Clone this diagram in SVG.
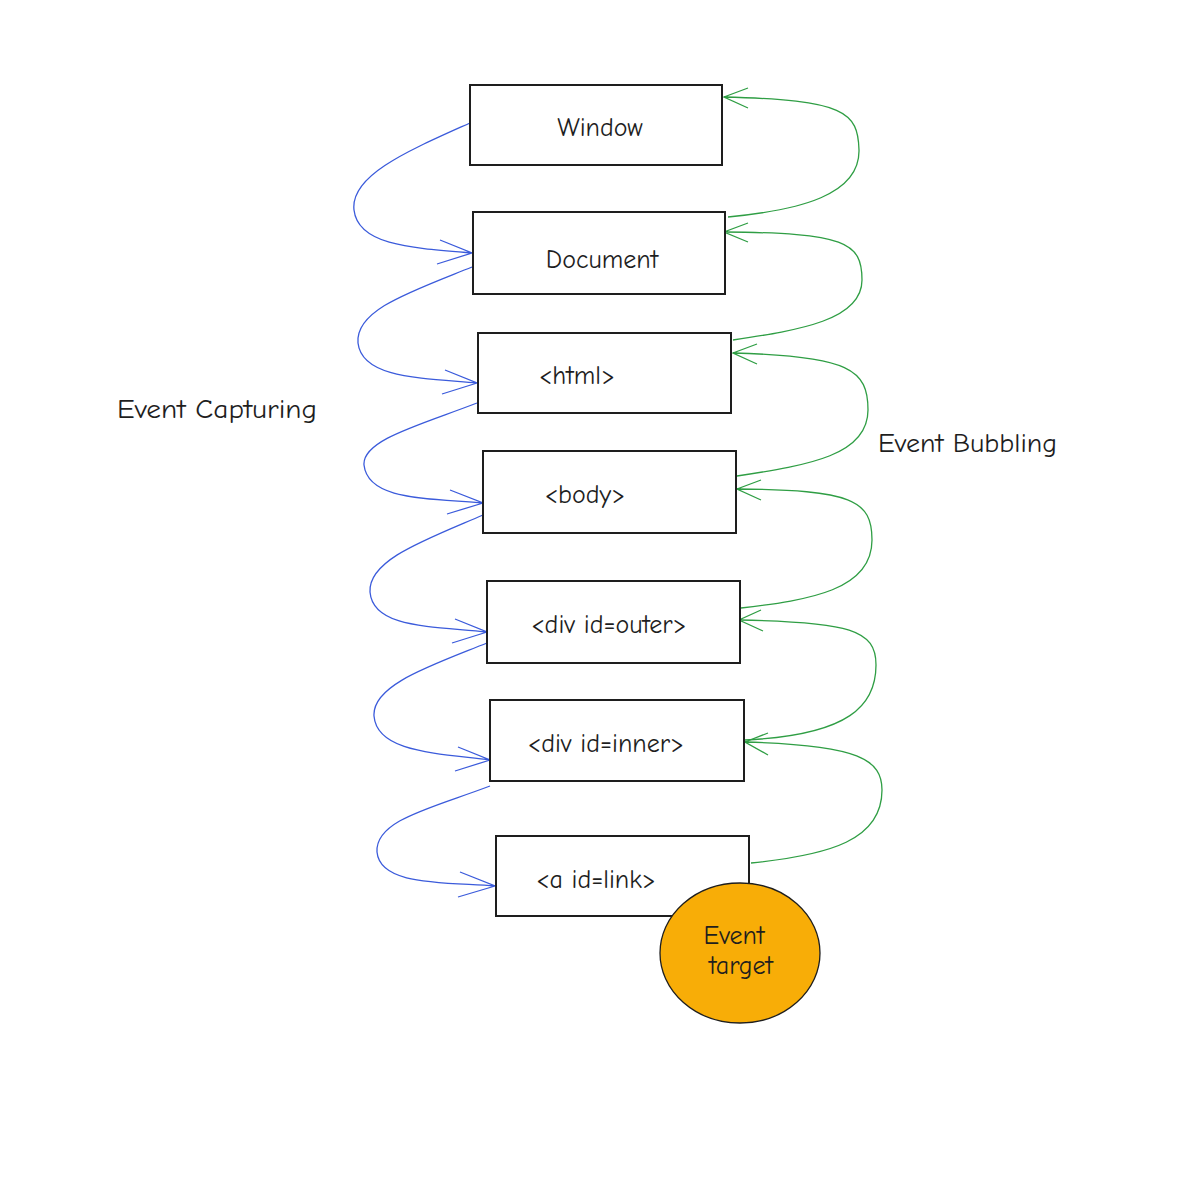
<svg xmlns="http://www.w3.org/2000/svg" width="1200" height="1183" viewBox="0 0 1200 1183">
<style>
.box{fill:#fff;stroke:#1e1e1e;stroke-width:2}
.lbl{font-family:"Comic Neue","Liberation Sans",sans-serif;font-size:26px;fill:#1e1e1e;text-anchor:middle}
.cap{fill:none;stroke:#3b5bdb;stroke-width:1.3}
.bub{fill:none;stroke:#2f9e44;stroke-width:1.3}
.side{font-family:"Comic Neue","Liberation Sans",sans-serif;font-size:26px;fill:#1e1e1e}
</style>
<rect width="1200" height="1183" fill="#fff"/>
<g id="connectors">
  <g id="capturing">
    <path class="cap" d="M470,123 C410,150 350,175 354,210 C358,245 410,248 472,253 M440,240 L472,253 L437,264"/>
    <path class="cap" d="M472,267 C410,292 355,310 358,343 C362,378 420,378 477,383 M445,370 L477,383 L442,394"/>
    <path class="cap" d="M477,403 C420,425 362,440 364,465 C368,500 425,498 483,503 M450,490 L483,503 L447,514"/>
    <path class="cap" d="M483,515 C425,540 368,560 370,592 C373,628 430,626 487,632 M455,619 L487,632 L452,643"/>
    <path class="cap" d="M487,643 C430,666 372,685 374,716 C377,752 435,753 490,760 M458,747 L490,760 L455,771"/>
    <path class="cap" d="M490,786 C432,808 375,820 377,852 C380,885 440,882 495,886 M460,872 L495,886 L458,897"/>
  </g>
  <g id="bubbling">
    <path class="bub" d="M728,217 C800,210 860,195 859,150 C858,112 845,100 724,97 M748,88 L724,97 L748,108"/>
    <path class="bub" d="M733,340 C800,330 862,320 862,280 C862,242 845,233 724,232 M748,223 L724,232 L748,242"/>
    <path class="bub" d="M737,476 C810,465 868,455 868,410 C868,370 850,356 733,353 M757,344 L733,353 L757,364"/>
    <path class="bub" d="M741,608 C810,600 872,590 872,540 C872,500 852,490 737,489 M761,480 L737,489 L761,500"/>
    <path class="bub" d="M745,740 C850,735 876,705 876,665 C876,630 850,622 739,620 M761,610 L739,620 L763,631"/>
    <path class="bub" d="M751,863 C830,855 882,840 882,790 C882,760 860,745 745,742 M768,733 L745,742 L768,755"/>
  </g>
</g>
<g id="window"><rect class="box" x="470" y="85" width="252" height="80"/><text class="lbl" x="600" y="136">Window</text></g>
<g id="document"><rect class="box" x="473" y="212" width="252" height="82"/><text class="lbl" x="602" y="268">Document</text></g>
<g id="html"><rect class="box" x="478" y="333" width="253" height="80"/><text class="lbl" x="577" y="384">&lt;html&gt;</text></g>
<g id="body"><rect class="box" x="483" y="451" width="253" height="82"/><text class="lbl" x="585" y="503">&lt;body&gt;</text></g>
<g id="outer"><rect class="box" x="487" y="581" width="253" height="82"/><text class="lbl" x="609" y="633">&lt;div id=outer&gt;</text></g>
<g id="inner"><rect class="box" x="490" y="700" width="254" height="81"/><text class="lbl" x="606" y="752">&lt;div id=inner&gt;</text></g>
<g id="link"><rect class="box" x="496" y="836" width="253" height="80"/><text class="lbl" x="596" y="888">&lt;a id=link&gt;</text></g>
<g id="target"><ellipse cx="740" cy="953" rx="80" ry="70" fill="#f8ad07" stroke="#1e1e1e" stroke-width="1.3"/>
<text class="lbl" x="734" y="944">Event</text><text class="lbl" x="741" y="974">target</text></g>
<g id="labels">
<text class="side" x="117" y="418" textLength="200" lengthAdjust="spacingAndGlyphs">Event Capturing</text>
<text class="side" x="878" y="452" textLength="179" lengthAdjust="spacingAndGlyphs">Event Bubbling</text>
</g>
</svg>
